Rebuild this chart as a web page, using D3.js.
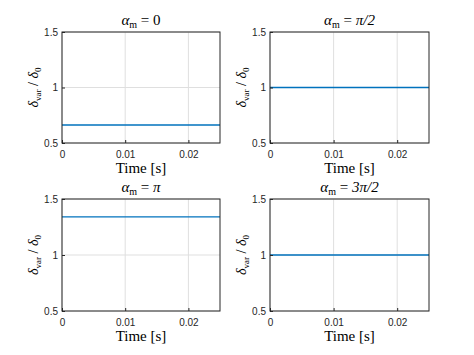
<!DOCTYPE html>
<html><head><meta charset="utf-8">
<script src="https://cdn.jsdelivr.net/npm/d3@7"></script>
<style>body{margin:0;background:#fff}</style>
</head><body>
<svg id="c" width="474" height="355"></svg>
<script>
const titlesMain = ["0", "π/2", "π", "3π/2"];
const levels = [0.662, 1.0, 1.34, 1.0];
const timeSpan = [0, 0.025];
const xTicks = [0, 0.01, 0.02];
const yTicks = [0.5, 1, 1.5];
const xTickLabels = ["0", "0.01", "0.02"];
const yTickLabels = ["0.5", "1", "1.5"];

const svg = d3.select("#c");
const panels = [
  {x0: 62, x1: 220, y0: 32, y1: 143},
  {x0: 270, x1: 429, y0: 32, y1: 143},
  {x0: 62, x1: 220, y0: 199, y1: 311},
  {x0: 270, x1: 429, y0: 199, y1: 311}
];
const serif = "Liberation Serif";
const sans = "Liberation Sans";

panels.forEach((p, i) => {
  const x = d3.scaleLinear().domain(timeSpan).range([p.x0, p.x1]);
  const y = d3.scaleLinear().domain([0.5, 1.5]).range([p.y1, p.y0]);
  const g = svg.append("g");
  g.selectAll(".gx").data(xTicks).join("line")
    .attr("x1", d => x(d)).attr("x2", d => x(d)).attr("y1", p.y0).attr("y2", p.y1)
    .attr("stroke", "#dfdfdf").attr("stroke-width", 1);
  g.selectAll(".gy").data(yTicks).join("line")
    .attr("y1", d => y(d)).attr("y2", d => y(d)).attr("x1", p.x0).attr("x2", p.x1)
    .attr("stroke", "#dfdfdf").attr("stroke-width", 1);
  const data = timeSpan.map(t => ({t, v: levels[i]}));
  g.append("path").datum(data)
    .attr("d", d3.line().x(d => x(d.t)).y(d => y(d.v)))
    .attr("stroke", "#0072BD").attr("stroke-width", 1.3).attr("fill", "none");
  const xa = d3.axisBottom(x).tickValues(xTicks).tickFormat((d, k) => xTickLabels[k]).tickSize(-3).tickPadding(8);
  const ya = d3.axisLeft(y).tickValues(yTicks).tickFormat((d, k) => yTickLabels[k]).tickSize(-3).tickPadding(4);
  const gx = g.append("g").attr("transform", `translate(0,${p.y1})`).call(xa);
  const gy = g.append("g").attr("transform", `translate(${p.x0},0)`).call(ya);
  [gx, gy].forEach(a => {
    a.select(".domain").remove();
    a.selectAll("line").attr("stroke", "#262626");
    a.selectAll("text").attr("fill", "#262626").attr("font-family", sans).attr("font-size", "10px");
  });
  g.append("rect").attr("x", p.x0).attr("y", p.y0).attr("width", p.x1 - p.x0).attr("height", p.y1 - p.y0)
    .attr("fill", "none").attr("stroke", "#262626").attr("stroke-width", 1);
  const cx = (p.x0 + p.x1) / 2;
  const t = g.append("text").attr("x", cx).attr("y", p.y0 - 7).attr("text-anchor", "middle")
    .attr("font-family", serif).attr("font-size", "15px").attr("fill", "#000");
  t.append("tspan").attr("font-style", "italic").text("α");
  t.append("tspan").attr("dy", 3).attr("font-size", "10px").text("m");
  t.append("tspan").attr("dy", -3).text(" = ");
  t.append("tspan").attr("font-style", i === 0 ? "normal" : "italic").text(titlesMain[i]);
  g.append("text").attr("x", cx).attr("y", p.y1 + 30).attr("text-anchor", "middle")
    .attr("font-family", serif).attr("font-size", "15px").attr("fill", "#000").text("Time [s]");
  const cy = (p.y0 + p.y1) / 2;
  const yl = g.append("text").attr("transform", `translate(${p.x0 - 24},${cy}) rotate(-90)`)
    .attr("text-anchor", "middle").attr("font-family", serif).attr("font-size", "14px").attr("fill", "#000");
  yl.append("tspan").attr("font-style", "italic").text("δ");
  yl.append("tspan").attr("dy", 3).attr("font-size", "9px").text("var");
  yl.append("tspan").attr("dy", -3).text(" / ");
  yl.append("tspan").attr("font-style", "italic").text("δ");
  yl.append("tspan").attr("dy", 3).attr("font-size", "9px").text("0");
});
</script>
</body></html>
